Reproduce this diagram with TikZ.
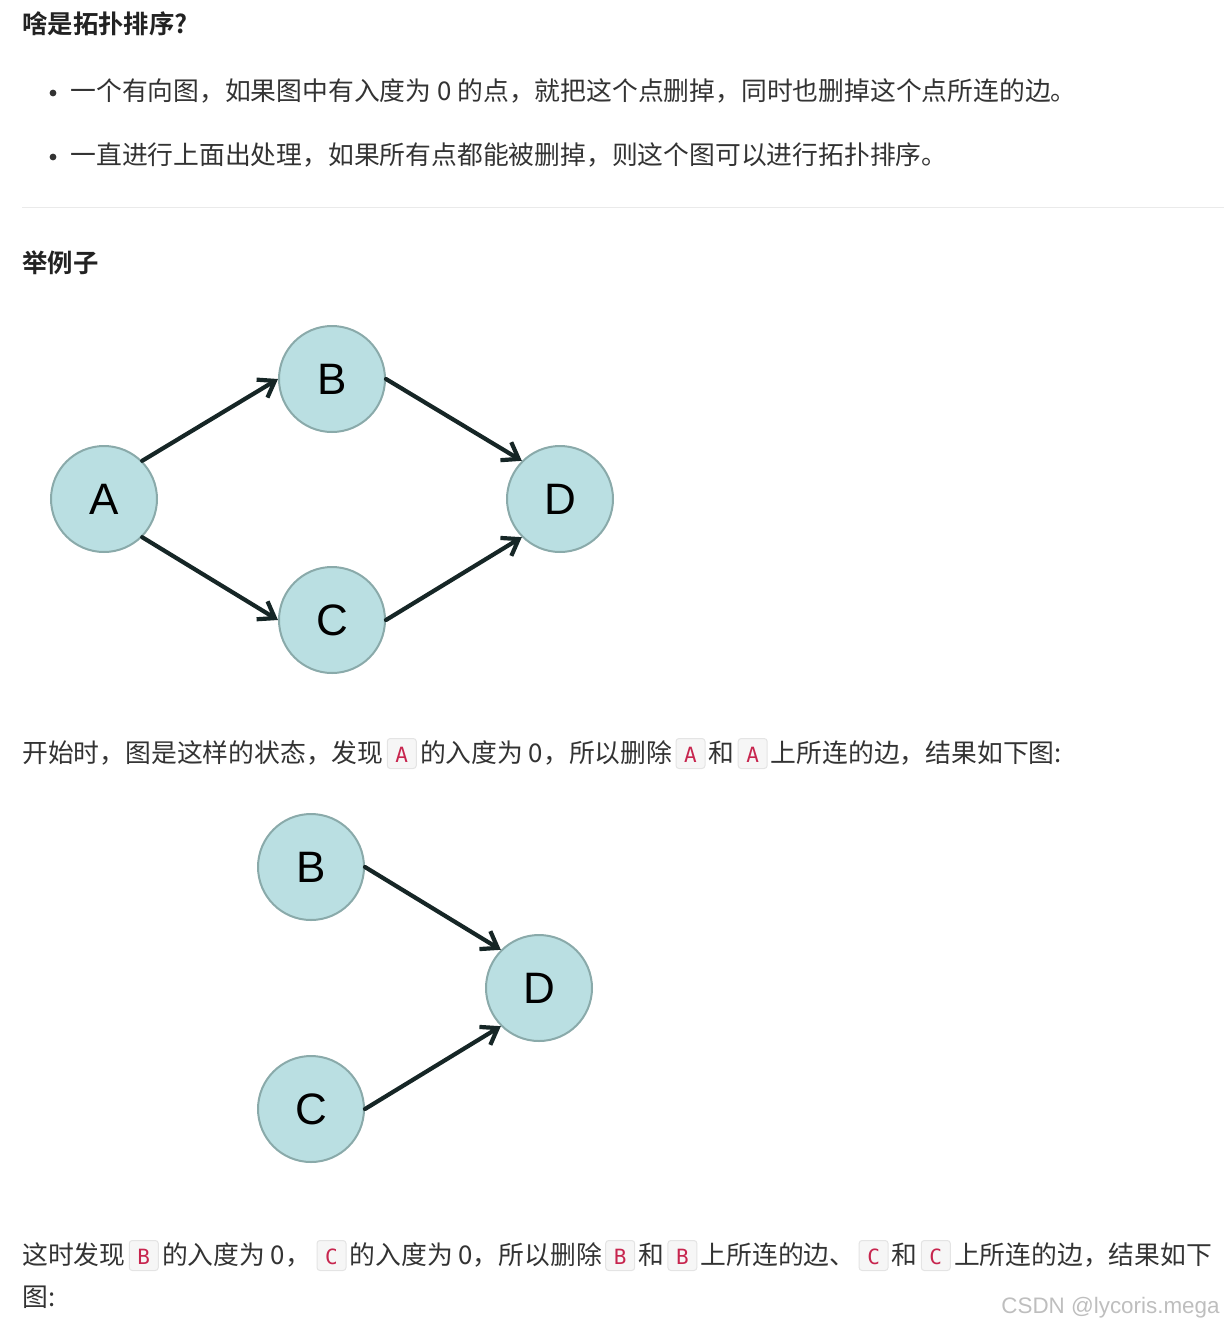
\documentclass[tikz,border=0pt]{standalone}
\usepackage{fontspec}
\setmainfont{Noto Sans CJK SC}[BoldFont={Noto Sans CJK SC Bold}]
\newfontfamily\latinsans{Liberation Sans}
\newfontfamily\codefont{DejaVu Sans Mono}
\usetikzlibrary{arrows.meta,positioning}

\definecolor{bodytext}{RGB}{51,51,51}
\definecolor{titletext}{RGB}{34,34,34}
\definecolor{rulegray}{RGB}{234,234,234}
\definecolor{codebg}{RGB}{246,246,246}
\definecolor{codeline}{RGB}{228,228,228}
\definecolor{codered}{RGB}{199,37,78}
\definecolor{nodefill}{RGB}{186,223,226}
\definecolor{nodeline}{RGB}{138,170,170}
\definecolor{arrowcol}{RGB}{22,38,38}
\definecolor{markgray}{RGB}{190,190,190}

\begin{document}
\begin{tikzpicture}[x=0.5pt, y=-0.5pt, node distance=1.4pt,
  txt/.style={inner sep=0pt, text=bodytext, font=\fontsize{12.9}{15}\selectfont},
  head/.style={txt, text=titletext, font=\fontsize{12.7}{15}\selectfont\bfseries},
  dot/.style={circle, fill=bodytext, inner sep=0pt, minimum size=3.4pt},
  codebox/.style={draw=codeline, fill=codebg, rounded corners=1.5pt, line width=0.5pt,
                  inner sep=0pt, minimum width=14.5pt, minimum height=15pt,
                  text height=9.5pt, text depth=1pt, text=codered,
                  font=\codefont\fontsize{10.5}{12}\selectfont},
  vertex/.style={circle, draw=nodeline, fill=nodefill, line width=1pt, minimum size=53pt,
                 inner sep=0pt, text=black, font=\latinsans\fontsize{22}{24}\selectfont},
  link/.style={draw=arrowcol, line width=2.1pt, line cap=round, line join=round,
               -{Straight Barb[length=7.5pt,width=10.5pt]}}]
  \useasboundingbox (0,0) rectangle (1224,1324);

  % heading and the two rules
  \node (title) [head, anchor=base west] at (22,33) {啥是拓扑排序?};
  \node (dot1)  [dot] at (53,93) {};
  \node (rule1) [txt, anchor=base west] at (70,100)
                {一个有向图，如果图中有入度为 0 的点，就把这个点删掉，同时也删掉这个点所连的边。};
  \node (dot2)  [dot] at (53,157) {};
  \node (rule2) [txt, anchor=base west] at (70,164)
                {一直进行上面出处理，如果所有点都能被删掉，则这个图可以进行拓扑排序。};
  \draw[rulegray, line width=0.5pt] (22,207) -- (1224,207);
  \node (example) [head, anchor=base west] at (22,272) {举例子};

  % first graph
  \node (a1) [vertex] at (104,499) {A};
  \node (b1) [vertex] at (332,379) {B};
  \node (c1) [vertex] at (332,620) {C};
  \node (d1) [vertex] at (560,499) {D};

  \draw[link] (a1.45)  -- (b1.west);
  \draw[link] (b1.east) -- (d1.135);
  \draw[link] (a1.-45) -- (c1.west);
  \draw[link] (c1.east) -- (d1.-135);

  % first remark
  \node (la1) [txt, anchor=base west] at (22,762) {开始时，图是这样的状态，发现};
  \node (la2) [codebox, base right=of la1] {A};
  \node (la3) [txt, base right=of la2] {的入度为 0，所以删除};
  \node (la4) [codebox, base right=of la3] {A};
  \node (la5) [txt, base right=of la4] {和};
  \node (la6) [codebox, base right=of la5] {A};
  \node (la7) [txt, base right=of la6] {上所连的边，结果如下图:};

  % second graph
  \node (b2) [vertex] at (311,867)  {B};
  \node (d2) [vertex] at (539,988)  {D};
  \node (c2) [vertex] at (311,1109) {C};

  \draw[link] (b2.east) -- (d2.135);
  \draw[link] (c2.east) -- (d2.-135);

  % second remark
  \node (lb1)  [txt, anchor=base west] at (22,1264) {这时发现};
  \node (lb2)  [codebox, base right=of lb1] {B};
  \node (lb3)  [txt, base right=of lb2] {的入度为 0，};
  \node (lb4)  [codebox, base right=2.5pt of lb3] {C};
  \node (lb5)  [txt, base right=of lb4] {的入度为 0，所以删除};
  \node (lb6)  [codebox, base right=of lb5] {B};
  \node (lb7)  [txt, base right=of lb6] {和};
  \node (lb8)  [codebox, base right=of lb7] {B};
  \node (lb9)  [txt, base right=of lb8] {上所连的边、};
  \node (lb10) [codebox, base right=of lb9] {C};
  \node (lb11) [txt, base right=of lb10] {和};
  \node (lb12) [codebox, base right=of lb11] {C};
  \node (lb13) [txt, base right=of lb12] {上所连的边，结果如下};
  \node (lb14) [txt, anchor=base west] at (22,1306) {图:};

  \node (mark) [anchor=base east, inner sep=0pt, text=markgray,
                font=\latinsans\fontsize{11.2}{13}\selectfont] at (1220,1313) {CSDN @lycoris.mega};
\end{tikzpicture}
\end{document}
